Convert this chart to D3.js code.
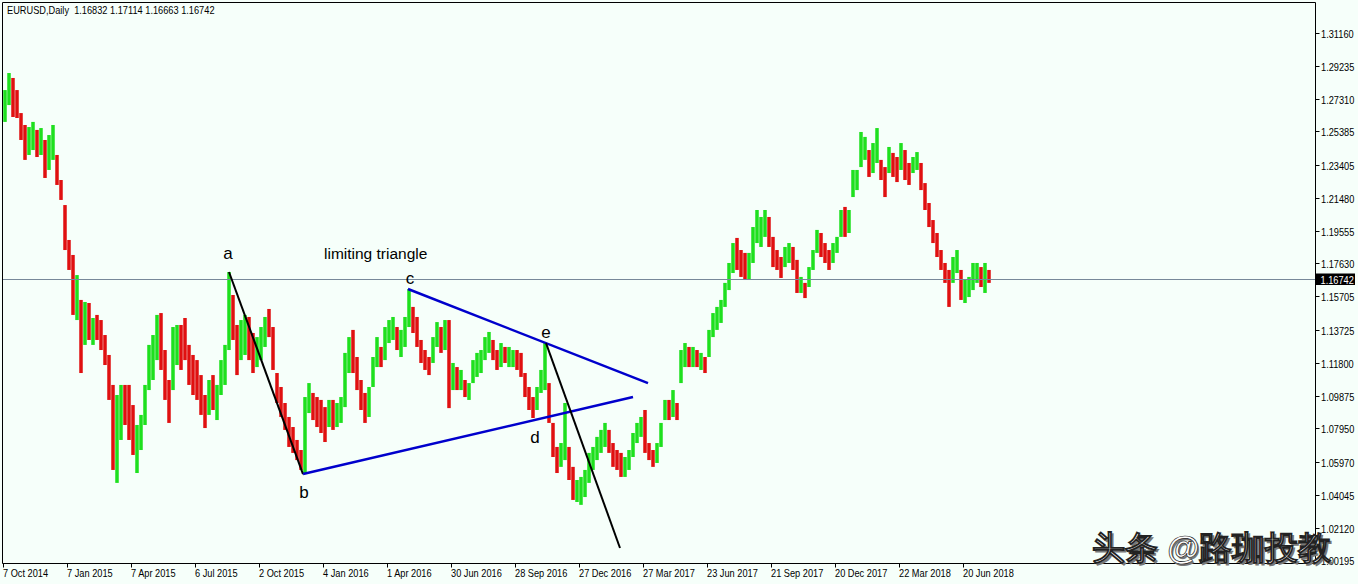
<!DOCTYPE html>
<html><head><meta charset="utf-8">
<script src="https://cdn.jsdelivr.net/npm/d3@7"></script>
<style>
html,body{margin:0;padding:0;background:#f6fffa;}
svg{display:block;}
text{font-family:"Liberation Sans",Arial,sans-serif;}
</style></head><body>
<svg id="c" width="1358" height="584"></svg>
<script>
// ---- data (EURUSD daily, each entry = 4 trading days) ----
const symbol = "EURUSD,Daily";
const lastQuote = ["1.16832", "1.17114", "1.16663", "1.16742"];
const lastPrice = 1.16742;
const dateLabels = ["7 Oct 2014","7 Jan 2015","7 Apr 2015","6 Jul 2015","2 Oct 2015","4 Jan 2016","1 Apr 2016","30 Jun 2016","28 Sep 2016","27 Dec 2016","27 Mar 2017","23 Jun 2017","21 Sep 2017","20 Dec 2017","22 Mar 2018","20 Jun 2018"];
const dateLabelStep = 16;
const priceTicks = [1.31160,1.29235,1.27310,1.25385,1.23405,1.21480,1.19555,1.17630,1.15705,1.13725,1.11800,1.09875,1.07950,1.05970,1.04045,1.02120,1.00195];

const highs = [
1.2781,1.2881,1.2852,1.2781,1.2646,1.2576,1.2564,1.2594,1.2547,1.2558,
1.2488,1.2517,1.2576,1.2400,1.2253,1.2106,1.1901,1.1813,1.1695,1.1549,
1.1537,1.1531,1.1443,1.1461,1.1431,1.1343,1.1226,1.1050,1.0991,1.1050,
1.1050,1.1050,1.0932,1.0815,1.0874,1.1050,1.1285,1.1343,1.1461,1.1472,
1.1255,1.1079,1.1390,1.1402,1.1402,1.1443,1.1285,1.1226,1.1196,1.1108,
1.0991,1.1079,1.1108,1.1050,1.1196,1.1285,1.1713,1.1578,1.1402,1.1431,
1.1461,1.1449,1.1355,1.1331,1.1390,1.1449,1.1496,1.1390,1.1120,1.1038,
1.0944,1.0862,1.0803,1.0727,1.0668,1.0979,1.1061,1.1003,1.0979,1.0962,
1.0920,1.0962,1.0962,1.0944,1.0979,1.1238,1.1331,1.1373,1.1214,1.1079,
1.1003,1.1038,1.1214,1.1331,1.1273,1.1390,1.1431,1.1449,1.1390,1.1373,
1.1449,1.1613,1.1508,1.1449,1.1314,1.1255,1.1214,1.1331,1.1419,1.1390,
1.1431,1.1431,1.1179,1.1155,1.1138,1.1079,1.1061,1.1196,1.1238,1.1255,
1.1331,1.1361,1.1314,1.1255,1.1296,1.1273,1.1273,1.1255,1.1255,1.1238,
1.1120,1.1038,1.0979,1.1038,1.1138,1.1296,1.1061,1.0827,1.0686,1.0709,
1.0944,1.0686,1.0569,1.0492,1.0510,1.0551,1.0651,1.0686,1.0745,1.0786,
1.0827,1.0786,1.0709,1.0668,1.0651,1.0627,1.0668,1.0768,1.0827,1.0862,
1.0903,1.0709,1.0668,1.0709,1.0827,1.0962,1.0962,1.1020,1.0944,1.1255,
1.1296,1.1273,1.1273,1.1255,1.1238,1.1214,1.1373,1.1472,1.1508,1.1549,
1.1649,1.1766,1.1883,1.1913,1.1842,1.1825,1.1825,1.1977,1.2077,1.2036,
1.2077,1.2036,1.1919,1.1842,1.1801,1.1860,1.1883,1.1860,1.1784,1.1684,
1.1649,1.1742,1.1842,1.1960,1.1942,1.1883,1.1842,1.1883,1.1919,1.2077,
1.2095,1.2077,1.2312,1.2312,1.2535,1.2506,1.2429,1.2470,1.2558,1.2371,
1.2329,1.2447,1.2412,1.2388,1.2470,1.2429,1.2353,1.2388,1.2417,1.2353,
1.2235,1.2118,1.2018,1.1942,1.1842,1.1766,1.1725,1.1801,1.1842,1.1725,
1.1666,1.1684,1.1766,1.1766,1.1742,1.1766,1.1725];

const lows = [
1.2594,1.2693,1.2623,1.2617,1.2488,1.2371,1.2400,1.2429,1.2388,1.2400,
1.2265,1.2312,1.2371,1.2224,1.2136,1.1842,1.1725,1.1461,1.1431,1.1120,
1.1285,1.1314,1.1285,1.1314,1.1255,1.1167,1.0962,1.0551,1.0475,1.0727,
1.0815,1.0727,1.0639,1.0533,1.0668,1.0815,1.1020,1.1079,1.1196,1.1138,
1.0962,1.0827,1.1020,1.1167,1.1138,1.1196,1.1050,1.0991,1.0962,1.0874,
1.0797,1.0874,1.0903,1.0844,1.0991,1.1050,1.1255,1.1314,1.1108,1.1196,
1.1226,1.1196,1.1120,1.1155,1.1196,1.1273,1.1331,1.1138,1.0944,1.0862,
1.0786,1.0686,1.0651,1.0609,1.0551,1.0527,1.0885,1.0844,1.0803,1.0768,
1.0715,1.0803,1.0786,1.0803,1.0827,1.0920,1.1120,1.1120,1.1020,1.0903,
1.0827,1.0862,1.1038,1.1155,1.1155,1.1196,1.1296,1.1314,1.1255,1.1214,
1.1273,1.1390,1.1355,1.1273,1.1179,1.1138,1.1108,1.1179,1.1273,1.1238,
1.1255,1.0914,1.1020,1.1020,1.1020,1.0979,1.0962,1.1061,1.1097,1.1120,
1.1196,1.1238,1.1196,1.1138,1.1155,1.1179,1.1155,1.1155,1.1138,1.1097,
1.0979,1.0903,1.0856,1.0903,1.1003,1.1020,1.0827,1.0627,1.0533,1.0569,
1.0609,1.0492,1.0375,1.0363,1.0346,1.0392,1.0475,1.0551,1.0609,1.0651,
1.0686,1.0651,1.0569,1.0551,1.0510,1.0510,1.0551,1.0627,1.0709,1.0745,
1.0651,1.0609,1.0569,1.0592,1.0686,1.0844,1.0844,1.0862,1.0844,1.1061,
1.1155,1.1155,1.1155,1.1155,1.1138,1.1120,1.1214,1.1331,1.1373,1.1414,
1.1508,1.1607,1.1707,1.1725,1.1684,1.1666,1.1666,1.1766,1.1883,1.1860,
1.1919,1.1860,1.1742,1.1725,1.1678,1.1742,1.1766,1.1725,1.1590,1.1590,
1.1560,1.1625,1.1725,1.1825,1.1801,1.1766,1.1725,1.1766,1.1825,1.1919,
1.1919,1.1942,1.2153,1.2194,1.2329,1.2371,1.2271,1.2294,1.2353,1.2253,
1.2153,1.2294,1.2271,1.2241,1.2312,1.2253,1.2224,1.2294,1.2312,1.2194,
1.2077,1.1977,1.1883,1.1801,1.1725,1.1649,1.1508,1.1649,1.1707,1.1549,
1.1531,1.1566,1.1607,1.1649,1.1625,1.1590,1.1649];

const closes = [
1.2723,1.2811,1.2752,1.2723,1.2517,1.2459,1.2488,1.2517,1.2459,1.2488,
1.2341,1.2429,1.2488,1.2265,1.2153,1.1872,1.1754,1.1549,1.1549,1.1373,
1.1431,1.1373,1.1402,1.1373,1.1314,1.1196,1.0991,1.0609,1.0786,1.0962,
1.0903,1.0844,1.0668,1.0727,1.0815,1.0991,1.1196,1.1285,1.1373,1.1226,
1.1020,1.0962,1.1285,1.1314,1.1285,1.1255,1.1138,1.1079,1.1050,1.0932,
1.0903,1.0991,1.0962,1.0962,1.1138,1.1226,1.1607,1.1373,1.1255,1.1314,
1.1343,1.1314,1.1255,1.1285,1.1343,1.1402,1.1373,1.1226,1.1020,1.0932,
1.0815,1.0727,1.0698,1.0639,1.0580,1.0903,1.0962,1.0932,1.0903,1.0844,
1.0815,1.0903,1.0874,1.0903,1.0932,1.1167,1.1285,1.1196,1.1079,1.0962,
1.0903,1.0991,1.1167,1.1285,1.1226,1.1314,1.1373,1.1402,1.1314,1.1314,
1.1373,1.1519,1.1431,1.1314,1.1226,1.1196,1.1167,1.1285,1.1343,1.1314,
1.1343,1.1050,1.1108,1.1079,1.1079,1.1020,1.1020,1.1167,1.1196,1.1226,
1.1285,1.1314,1.1255,1.1226,1.1255,1.1226,1.1226,1.1226,1.1196,1.1138,
1.1020,1.0932,1.0903,1.0991,1.1079,1.1138,1.0874,1.0668,1.0609,1.0639,
1.0698,1.0551,1.0433,1.0433,1.0463,1.0492,1.0580,1.0639,1.0698,1.0727,
1.0756,1.0698,1.0639,1.0609,1.0580,1.0580,1.0639,1.0727,1.0786,1.0815,
1.0698,1.0668,1.0639,1.0668,1.0786,1.0932,1.0903,1.0991,1.0903,1.1196,
1.1255,1.1226,1.1226,1.1196,1.1196,1.1167,1.1343,1.1431,1.1431,1.1490,
1.1607,1.1725,1.1842,1.1813,1.1784,1.1754,1.1754,1.1901,1.1960,1.1989,
1.1989,1.1930,1.1813,1.1784,1.1754,1.1813,1.1813,1.1784,1.1637,1.1637,
1.1607,1.1695,1.1813,1.1901,1.1872,1.1813,1.1784,1.1842,1.1872,1.2018,
1.1989,1.2048,1.2253,1.2282,1.2429,1.2459,1.2341,1.2400,1.2429,1.2312,
1.2253,1.2371,1.2341,1.2312,1.2400,1.2312,1.2282,1.2341,1.2371,1.2224,
1.2136,1.2018,1.1930,1.1842,1.1754,1.1695,1.1607,1.1754,1.1784,1.1607,
1.1607,1.1637,1.1695,1.1695,1.1666,1.1695,1.1674];

// wave points (bar index, price)
const waveNames = ["a","b","c","d","e"];
const waveIdx   = [56.5, 75, 101.25, 133, 135.75];
const wavePrice = [1.1713, 1.0527, 1.1613, 1.0856, 1.1296];
const triUpperEnd = [161.25, 1.1061];
const triLowerEnd = [157.5, 1.0979];
const eLineEnd = [154.25, 1.0093];
const triangleTitle = "limiting triangle";
const watermark = "头条 @路珈投教";

// ---- layout ----
const W = 1358, H = 584;
const L = 2.5, R = 1315.5, T = 2.5, B = 563.5;
const NARROW = 0.84;
const svg = d3.select("#c");
svg.append("rect").attr("width", W).attr("height", H).attr("fill", "#f6fffa");

const N = highs.length;
const x = d3.scaleLinear().domain([0, N]).range([3, 3 + 4 * N]);
const y = d3.scaleLinear().domain([1.31160, 1.02120]).range([33, 527.7]);

const opens = closes.map((c, i) => i === 0 ? c : closes[i - 1]);
const UP = "#1ee01e", DN = "#e01010";

svg.append("clipPath").attr("id", "plot").append("rect")
  .attr("x", L).attr("y", T).attr("width", R - L).attr("height", B - T);
const gBars = svg.append("g").attr("clip-path", "url(#plot)");

const idx = d3.range(N);
gBars.selectAll("rect.body").data(idx).join("rect").attr("class", "body")
  .attr("x", i => x(i) + 0.25).attr("width", 3.5)
  .attr("y", i => y(highs[i])).attr("height", i => Math.max(1, y(lows[i]) - y(highs[i])))
  .attr("fill", i => closes[i] >= opens[i] ? UP : DN);

// current price line
const yl = Math.round(y(lastPrice)) + 0.5;
svg.append("line").attr("x1", L).attr("x2", R).attr("y1", yl).attr("y2", yl)
  .attr("stroke", "#778899").attr("stroke-width", 1);

// annotation lines
const P = k => [x(waveIdx[k]), y(wavePrice[k])];
const lines = [
  [P(0), P(1), "#000000", 2],
  [P(1), [x(triLowerEnd[0]), y(triLowerEnd[1])], "#0000cc", 2.5],
  [P(2), [x(triUpperEnd[0]), y(triUpperEnd[1])], "#0000cc", 2.5],
  [P(4), [x(eLineEnd[0]), y(eLineEnd[1])], "#000000", 2]
];
svg.append("g").selectAll("line").data(lines).join("line")
  .attr("x1", d => d[0][0]).attr("y1", d => d[0][1])
  .attr("x2", d => d[1][0]).attr("y2", d => d[1][1])
  .attr("stroke", d => d[2]).attr("stroke-width", d => d[3]);

// wave labels
const labOff = [[-1, -13], [1, 24], [2, -5], [0, 25], [0, -5]];
svg.append("g").selectAll("text").data(waveNames).join("text")
  .attr("x", (d, k) => P(k)[0] + labOff[k][0])
  .attr("y", (d, k) => P(k)[1] + labOff[k][1])
  .attr("text-anchor", "middle")
  .style("font-size", "17px").attr("fill", "#000").text(d => d);
svg.append("text").attr("x", 324).attr("y", P(0)[1] - 13)
  .style("font-size", "15.5px").attr("fill", "#000").text(triangleTitle);

// frame
const frame = svg.append("g").attr("stroke", "#000").attr("stroke-width", 1).attr("fill", "none");
frame.append("line").attr("x1", L).attr("x2", R).attr("y1", T).attr("y2", T);
frame.append("line").attr("x1", L).attr("x2", L).attr("y1", T).attr("y2", B);
frame.append("line").attr("x1", R).attr("x2", R).attr("y1", T).attr("y2", B);
frame.append("line").attr("x1", L).attr("x2", R).attr("y1", B).attr("y2", B);

function smallText(g, tx, ty, str, fill) {
  return g.append("text")
    .attr("transform", `translate(${tx},${ty}) scale(${NARROW},1)`)
    .style("font-size", "11px").style("white-space", "pre")
    .attr("fill", fill || "#000").text(str);
}

// price axis
const gy = svg.append("g");
priceTicks.forEach(t => {
  const yy = Math.round(y(t)) + 0.5;
  gy.append("line").attr("x1", R).attr("x2", R + 4).attr("y1", yy).attr("y2", yy).attr("stroke", "#000");
  smallText(gy, R + 5.5, yy + 4, t.toFixed(5));
});
// last price tag
gy.append("rect").attr("x", R + 0.5).attr("y", yl - 6).attr("width", 39).attr("height", 11.5).attr("fill", "#000");
smallText(gy, R + 5, yl + 4, lastPrice.toFixed(5), "#fff");

// time axis
const gx = svg.append("g");
dateLabels.forEach((lab, k) => {
  const xx = Math.round(x(k * dateLabelStep)) + 0.5;
  gx.append("line").attr("x1", xx).attr("x2", xx).attr("y1", B).attr("y2", B + 4).attr("stroke", "#000");
  smallText(gx, xx - 0.5, 577, lab);
});

// header
smallText(svg, 7, 14, symbol + "  " + lastQuote.join(" "));

// watermark
const wm = svg.append("g").style("font-family", "'Noto Sans CJK SC',sans-serif")
  .style("font-size", "33px").style("font-weight", "bold");
wm.append("text").attr("x", 1093.5).attr("y", 560.5).attr("fill", "#777").text(watermark);
wm.append("text").attr("x", 1092).attr("y", 559).attr("fill", "#fff")
  .attr("stroke", "#222").attr("stroke-width", 0.7).text(watermark);
</script>
</body></html>
